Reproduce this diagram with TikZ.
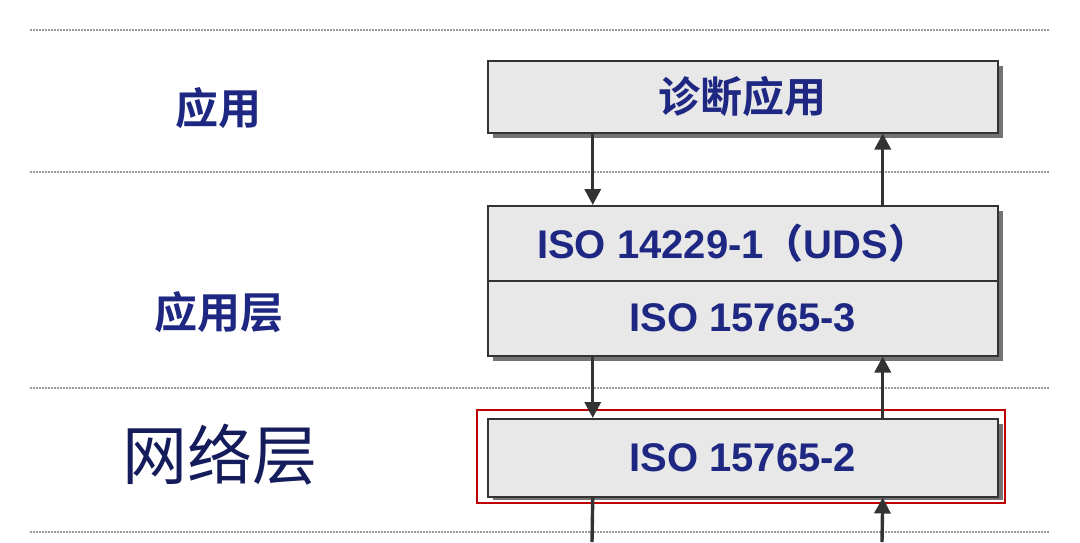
\documentclass[tikz,border=0pt]{standalone}
\usepackage{fontspec}
\newfontfamily\cjk{Noto Sans CJK SC}
\newfontfamily\cjkb{Noto Sans CJK SC Bold}
\setmainfont{Liberation Sans}
\usetikzlibrary{arrows.meta}
\definecolor{navy}{RGB}{30,40,130}
\begin{document}
\begin{tikzpicture}[x=1pt,y=-1pt,
  sep/.style={line width=2.4pt,dash pattern=on 1.6pt off 1.4pt,color=gray!80},
  lbox/.style={draw=black!80,line width=1.5pt,fill=black!9},
  shad/.style={fill=black!55},
  lbl/.style={font=\fontsize{40}{42}\selectfont\bfseries,text=navy},
  arr/.style={line width=3.4pt,black!80,-{Triangle[length=16pt,width=16pt]}}]
\path[use as bounding box,fill=white] (0,0) rectangle (1080,542);
\foreach \y in {30,172,388,532}{\draw[sep] (30,\y) -- (1050,\y);}
% box 1
\fill[shad] (493,66) rectangle (1003,138);
\node[lbox,minimum width=510pt,minimum height=72pt,anchor=north west,inner sep=0pt] (b1) at (487,60) {};
\node[font=\cjkb\fontsize{42}{44}\selectfont,text=navy] (t1) at (b1.center) {诊断应用};
% box 2
\fill[shad] (493,211) rectangle (1003,361);
\node[lbox,minimum width=510pt,minimum height=75pt,anchor=north west,inner sep=0pt] (b2a) at (487,205) {};
\node[lbox,minimum width=510pt,minimum height=75pt,anchor=north west,inner sep=0pt] (b2b) at (487,280) {};
\node[lbl] (t2a) at ([xshift=-10pt]b2a.center) {ISO 14229-1{\cjkb（}UDS{\cjkb）}};
\node[lbl] (t2b) at (b2b.center) {ISO 15765-3};
% red box
\draw[red!75!black,line width=2.5pt,fill=white] (477,410) rectangle (1005,503);
\fill[shad] (493,424) rectangle (1003,500);
\node[lbox,minimum width=510pt,minimum height=78pt,anchor=north west,inner sep=0pt] (b3) at (487,418) {};
\node[lbl] (t3) at (b3.center) {ISO 15765-2};
% arrows
\coordinate (bot1) at (592,542);
\coordinate (bot2) at (882,542);
\draw[arr] ([xshift=-150pt]b1.south) -- ([xshift=-150pt]b2a.north);
\draw[arr] ([xshift=140pt]b2a.north) -- ([xshift=140pt]b1.south);
\draw[arr] ([xshift=-150pt]b2b.south) -- ([xshift=-150pt]b3.north);
\draw[arr] ([xshift=140pt]b3.north) -- ([xshift=140pt]b2b.south);
\draw[line width=3.4pt,black!80] ([xshift=-150pt]b3.south) -- (bot1);
\draw[arr] (bot2) -- ([xshift=140pt]b3.south);
% left labels
\node[font=\cjkb\fontsize{43}{45}\selectfont,text=navy] (l1) at (218,108) {应用};
\node[font=\cjkb\fontsize{43}{45}\selectfont,text=navy] (l2) at (219,312) {应用层};
\node[font=\cjk\fontsize{65}{67}\selectfont,text=navy!70!black] (l3) at (220,455) {网络层};
\end{tikzpicture}
\end{document}
